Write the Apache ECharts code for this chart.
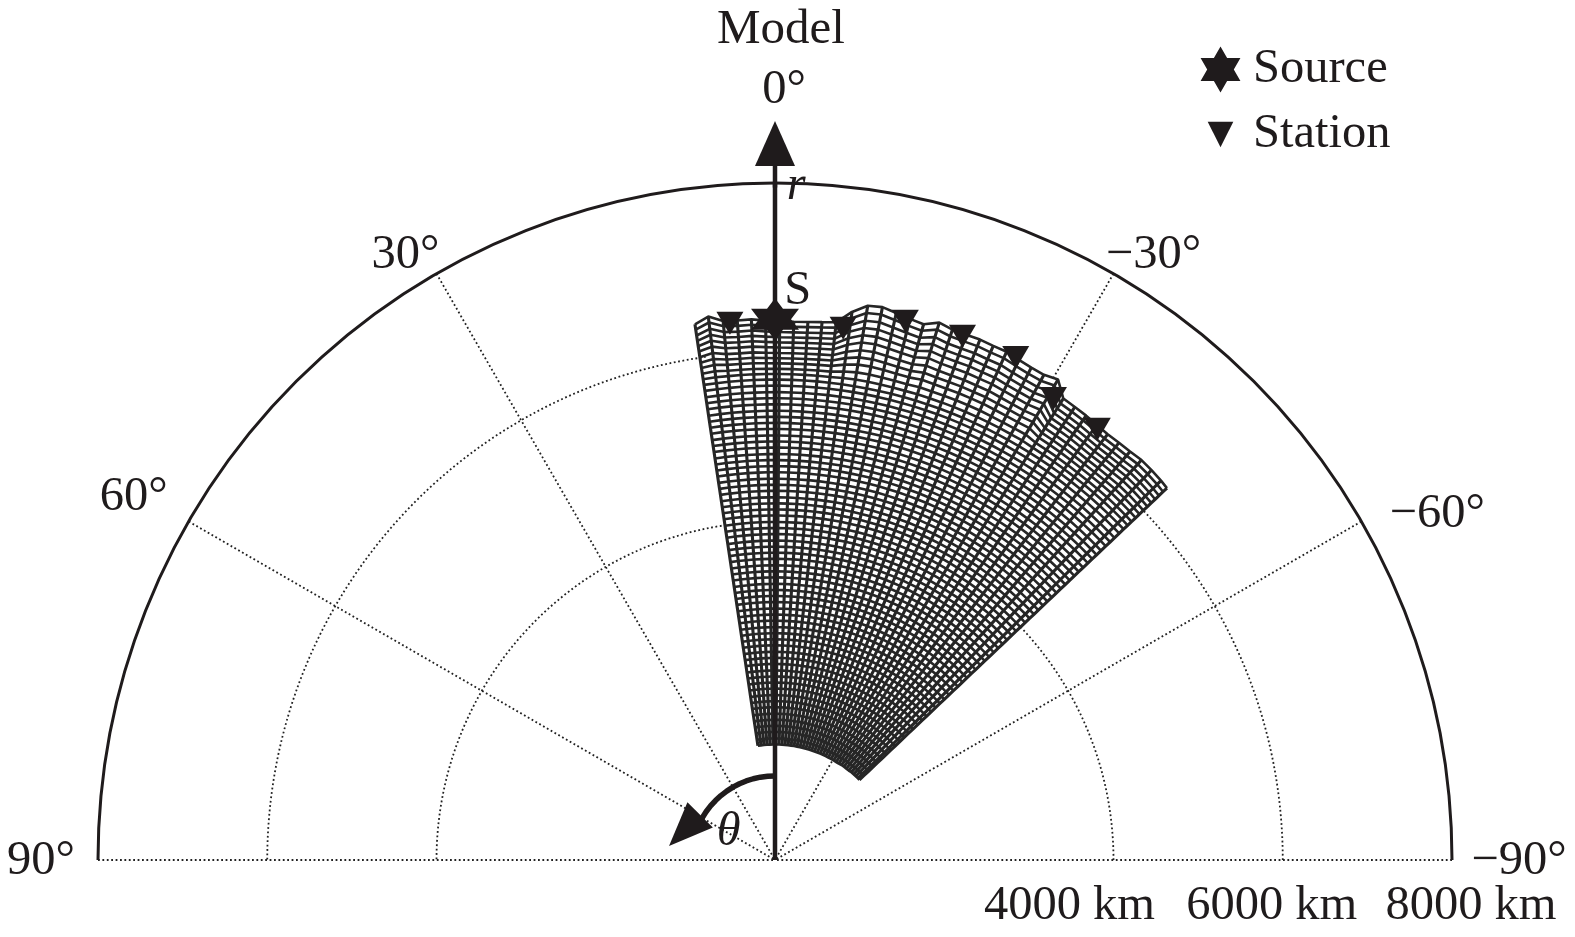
<!DOCTYPE html>
<html><head><meta charset="utf-8">
<style>html,body{margin:0;padding:0;background:#fff}#c{width:1575px;height:937px}</style>
<script src="https://cdn.jsdelivr.net/npm/echarts@6/dist/echarts.min.js"></script>
</head><body><div id="c"></div>
<script>
// ---- data (radius in km, angle in degrees, + = left of vertical)
const tickAngles = [90, 60, 30, 0, -30, -60, -90];
const tickLabels = ['90°', '60°', '30°', '0°', '−30°', '−60°', '−90°'];
const ringRadii = [4000, 6000, 8000];
const ringLabels = ['4000 km', '6000 km', '8000 km'];
const meshAngles = [8.5,7,5.5,4,2.5,1,-0.5,-2,-3.5,-5,-6.5,-8,-9.5,-11,-12.5,-14,-15.5,-17,-18.5,-20,-21.5,-23,-24.5,-26,-27.5,-29,-30.5,-32,-33.5,-35,-36.5,-38,-39.5,-41,-42.5,-44,-45.5,-46.5];
const meshSurfaceKm = [6400,6470,6400,6390,6395,6375,6365,6365,6370,6380,6395,6540,6640,6655,6620,6590,6570,6640,6610,6605,6610,6600,6600,6575,6560,6555,6590,6430,6420,6410,6395,6385,6390,6395,6410,6405,6395,6385];
const meshBaseKm = [1365,1365,1365,1365,1365,1365,1365,1365,1365,1365,1365,1365,1365,1365,1365,1365,1365,1365,1365,1365,1365,1365,1365,1365,1365,1365,1365,1365,1365,1370,1370,1370,1370,1375,1375,1375,1375,1375];
const meshInteriorTopKm = 6480;
const meshReliefStartPct = 85;
const meshLayerPct = [0,1.4,2.9,4.3,5.7,7.1,8.6,10,11.4,12.9,14.3,15.7,17.1,18.6,20,21.4,22.9,24.3,25.7,27.1,28.6,30,31.4,32.9,34.3,35.7,37.1,38.6,40,41.4,42.9,44.3,45.7,47.1,48.6,50,51.4,52.9,54.3,55.7,57.1,58.6,60,61.4,62.9,64.3,65.7,67.1,68.6,70,71.4,72.9,74.3,75.7,77.1,78.6,80,81.4,82.9,84.3,85.7,87.1,88.6,90,91.4,92.9,94.3,95.7,97.1,98.6,100];
const sourcePoint = [6390, 0];
const stationPoints = [[6366,4.8],[6336,-7.3],[6550,-13.6],[6573,-19.7],[6584,-25.6],[6370,-31.1],[6358,-36.8]];
const rAxisLine = [[0,0],[8000,0]];
const rAxisShaft = [8100,0];
const rArrowHead = [8467,0];
const thetaArcAngles = [0,5,10,15,20,25,30,35,40,45,50,55,60];
const thetaArcRadiusKm = 994;
const thetaArrowHead = [1124,71.9];
const annotations = [
  {text:'S', at:[6730,-2.3], italic:false},
  {text:'r', at:[7968,-1.8], italic:true},
  {text:'θ', at:[640,58.7], italic:true}
];

// ---- styling
const FONT = '"Liberation Serif","Times New Roman",serif';
const INK = '#1f1b1c';
const STAR = 'path://M50 0L64.4 25L93.3 25L78.9 50L93.3 75L64.4 75L50 100L35.6 75L6.7 75L21.1 50L6.7 25L35.6 25Z';
const TRI = 'path://M0 0L100 0L50 100Z';
const TRI_LEGEND = 'path://M-34 -38L-34 -38M134 138L134 138M0 0L100 0L50 100Z';
const tickOffsets = {'90':[-57,1],'60':[-55,-24],'30':[-31,-18],'0':[9,-93],'-30':[40,-18],'-60':[76,-7],'-90':[67,1]};
const ringOffsets = {'4000':[-44,46],'6000':[-11,46],'8000':[19,46]};

const series = [];
const meshLine = (data, width, color, z) => series.push({
  type:'line', coordinateSystem:'polar', data, symbol:'none', silent:true, clip:false, z,
  lineStyle:{color, width}, animation:false
});
// interior layers stay concentric; the surface relief is taken up by the uppermost layers
const layerRadius = (i,p) => {
  const f = p/100;
  const relief = p>meshReliefStartPct ? (p-meshReliefStartPct)/(100-meshReliefStartPct) : 0;
  return meshBaseKm[i] + (meshInteriorTopKm-meshBaseKm[i])*f + (meshSurfaceKm[i]-meshInteriorTopKm)*relief;
};
// white underlay so that the dotted rings do not show through the mesh
meshAngles.forEach((a,i)=>{
  if(i>0 && i<meshAngles.length-1) meshLine([[meshBaseKm[i],a],[layerRadius(i,100),a]], 15, '#fff', 2.5);
});
meshAngles.forEach((a,i)=>{
  meshLine(meshLayerPct.map(p=>[layerRadius(i,p),a]), 3.1, '#262626', 3);
});
meshLayerPct.forEach(p=>{
  meshLine(meshAngles.map((a,i)=>[layerRadius(i,p),a]), 2.6, '#262626', 3);
});
// r axis
const markStyle = {color:INK,opacity:1};
series.push({type:'line',coordinateSystem:'polar',data:rAxisLine,symbol:'none',clip:false,silent:true,z:6,animation:false,
  lineStyle:{color:INK,width:4.5}});
series.push({type:'scatter',coordinateSystem:'polar',data:[rAxisShaft],symbol:'rect',symbolSize:[4.5,26],clip:false,silent:true,z:6,animation:false,
  itemStyle:markStyle});
series.push({type:'scatter',coordinateSystem:'polar',data:[rArrowHead],symbol:'triangle',symbolSize:[40,45],clip:false,silent:true,z:6,animation:false,
  itemStyle:markStyle});
// theta arc
series.push({type:'line',coordinateSystem:'polar',data:thetaArcAngles.map(a=>[thetaArcRadiusKm,a]),symbol:'none',clip:false,silent:true,z:6,animation:false,
  lineStyle:{color:INK,width:5.5}});
series.push({type:'scatter',coordinateSystem:'polar',data:[thetaArrowHead],symbol:'triangle',symbolSize:[36,44],symbolRotate:135,clip:false,silent:true,z:6,animation:false,
  itemStyle:markStyle});
// stations and source
series.push({name:'Station',type:'scatter',coordinateSystem:'polar',data:stationPoints.map(p=>[p[0],p[1]]),symbol:TRI,symbolSize:[27,23],clip:false,z:7,animation:false,
  itemStyle:markStyle});
series.push({name:'Source',type:'scatter',coordinateSystem:'polar',data:[sourcePoint],symbol:STAR,symbolSize:[48,42],clip:false,z:8,animation:false,
  itemStyle:markStyle});
// text placed through the polar scales
const textSeries = (items) => series.push({
  type:'scatter',coordinateSystem:'polar',clip:false,silent:true,z:9,animation:false,symbolSize:1,
  itemStyle:{color:'rgba(0,0,0,0)',opacity:1},
  data:items.map(it=>({value:it.at,label:{show:true,formatter:it.text,position:'inside',offset:it.offset||[0,0],
    align:'center',verticalAlign:'middle',fontFamily:FONT,fontSize:48.5,color:INK,fontStyle:it.italic?'italic':'normal'}}))
});
textSeries(tickAngles.map((a,i)=>({text:tickLabels[i],at:[8000,a],offset:tickOffsets[a]})));
textSeries(ringRadii.map((r,i)=>({text:ringLabels[i],at:[r,-90],offset:ringOffsets[r]})));
textSeries(annotations);

const option = {
  backgroundColor:'#fff',
  animation:false,
  title:{text:'Model',left:776,top:1,textAlign:'center',textStyle:{fontFamily:FONT,fontSize:49,fontWeight:'normal',color:INK}},
  legend:{
    show:true, orient:'vertical', left:1199, top:45, itemGap:16, itemWidth:43, itemHeight:46, padding:0,
    textStyle:{fontFamily:FONT,fontSize:48.5,color:INK,padding:[0,0,0,6]},
    data:[{name:'Source',icon:STAR},{name:'Station',icon:TRI_LEGEND}]
  },
  polar:{center:[775,860],radius:677},
  angleAxis:{
    type:'value',min:-90,max:90,interval:30,startAngle:0,endAngle:180,clockwise:false,
    axisLine:{show:true,lineStyle:{color:INK,width:3}},
    axisTick:{show:false},axisLabel:{show:false},
    splitLine:{show:true,lineStyle:{color:'#222',width:1.8,type:[1.8,2.6]}}
  },
  radiusAxis:{
    type:'value',min:0,max:8000,interval:2000,
    axisLine:{show:false},
    axisTick:{show:false,customValues:[4000,6000]},
    axisLabel:{show:false},
    splitLine:{show:true,lineStyle:{color:'#222',width:1.8,type:[1.8,2.6]}}
  },
  series
};
const chart = echarts.init(document.getElementById('c'),null,{renderer:'canvas'});
chart.setOption(option);
</script></body></html>
